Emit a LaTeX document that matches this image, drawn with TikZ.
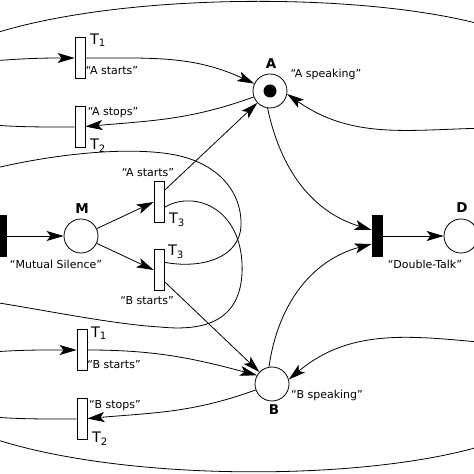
\documentclass[tikz,border=0pt]{standalone}
\usepackage{fontspec}
\setmainfont{DejaVu Sans}
\usetikzlibrary{arrows.meta}

\begin{document}
\begin{tikzpicture}[x=1pt,y=1pt,line width=0.8pt,>={Stealth[length=17pt,width=10pt,inset=4pt]}]
\tikzstyle{place}=[draw,circle,minimum size=34pt,inner sep=0pt]
\tikzstyle{trans}=[draw,rectangle,minimum width=10pt,minimum height=41pt,inner sep=0pt]
\tikzstyle{bar}=[trans,fill=black]
\tikzstyle{txt}=[font=\fontsize{11}{13}\selectfont,inner sep=0pt]
\tikzstyle{tname}=[font=\fontsize{14.5}{16}\selectfont,inner sep=0pt]
\tikzstyle{pname}=[font=\fontsize{13.5}{15}\selectfont\bfseries,inner sep=0pt]
\useasboundingbox (0,0) rectangle (474,474);
\clip (0,0) rectangle (474,474);

\node[place] (M) at (81,238) {};
\node[place] (A) at (270,383) {};
\node[circle,fill,minimum size=13pt,inner sep=0pt] (tok) at (A) {};
\node[place] (B) at (272,90) {};
\node[place] (D) at (461,238) {};
\node[bar] (Min) at (1,238) {};
\node[bar] (DT) at (377,238) {};
\node[trans] (TA1) at (80,416) {};
\node[trans] (TA2) at (80,347) {};
\node[trans] (T3a) at (159,272) {};
\node[trans] (T3b) at (159,204) {};
\node[trans] (TB1) at (82,124) {};
\node[trans] (TB2) at (82,55) {};

\node[pname] (Mlab) at (82,265) {M};
\node[txt] (Mtxt) at (56,210) {“Mutual Silence”};
\node[txt] (T3atxt) at (148,301) {“A starts”};
\node[tname] (T3alab) at (177,254) {T\textsubscript{3}};
\node[tname] (T3blab) at (176,222) {T\textsubscript{3}};
\node[txt] (T3btxt) at (147,173) {“B starts”};
\node[tname] (TA1lab) at (98,434) {T\textsubscript{1}};
\node[txt] (TA1txt) at (112,403) {“A starts”};
\node[txt] (TA2txt) at (113,361) {“A stops”};
\node[tname] (TA2lab) at (98,328) {T\textsubscript{2}};
\node[tname] (TB1lab) at (99,141) {T\textsubscript{1}};
\node[txt] (TB1txt) at (114,109) {“B starts”};
\node[txt] (TB2txt) at (115,68) {“B stops”};
\node[tname] (TB2lab) at (100,35) {T\textsubscript{2}};
\node[pname] (Alab) at (271,410) {A};
\node[txt] (Atxt) at (326,400) {“A speaking”};
\node[pname] (Blab) at (274,64) {B};
\node[txt] (Btxt) at (327,79) {“B speaking”};
\node[txt] (DTtxt) at (425,210) {“Double-Talk”};
\node[pname] (Dlab) at (462,266) {D};

\coordinate (inA) at (-20,412);
\coordinate (outA) at (-20,350);
\coordinate (topL) at (-30,432);
\coordinate (topR) at (500,444);
\coordinate (rightA) at (500,346);
\coordinate (loopT) at (-20,302);
\coordinate (loopB) at (-20,174);
\coordinate (inB) at (-20,121);
\coordinate (outB) at (-20,58);
\coordinate (botL) at (-30,44);
\coordinate (botR) at (500,34);
\coordinate (rightB) at (500,130);

\draw[->] (inA) to[out=5,in=180] (TA1);
\draw[->] (TA1) to[out=0,in=155] (A);
\draw[->] (A) to[out=200,in=5] (TA2);
\draw (TA2) to[out=180,in=-5] (outA);
\draw (topL) .. controls (100,484) and (380,484) .. (topR);
\draw[->] (rightA) to[out=180,in=-35] (A.-10);

\draw[->] (Min) -- (M);
\draw[->] (M) -- (T3a.west);
\draw[->] (M) -- (T3b.west);
\draw[->] (T3a.65) -- (A);
\draw[->] (T3b.-65) -- (B);
\draw (T3a.-45) .. controls (195,285) and (245,265) .. (242,200) .. controls (239,150) and (200,143) .. (160,147) .. controls (110,150) and (40,165) .. (loopB);
\draw (loopT) .. controls (40,318) and (120,328) .. (170,320) .. controls (220,312) and (242,280) .. (241,249) .. controls (240,215) and (200,205) .. (T3b.55);

\draw[->] (inB) to[out=5,in=180] (TB1);
\draw[->] (TB1) to[out=0,in=165] (B.150);
\draw[->] (B) to[out=200,in=5] (TB2);
\draw (TB2) to[out=180,in=-5] (outB);
\draw (botL) .. controls (100,-10) and (380,-10) .. (botR);
\draw[->] (rightB) to[out=175,in=40] (B.15);

\draw[->] (A.-98) to[out=-78,in=163] ([yshift=6pt]DT.west);
\draw[->] (B.100) to[out=82,in=195] ([yshift=-8pt]DT.west);
\draw[->] (DT) -- (D);
\end{tikzpicture}
\end{document}
